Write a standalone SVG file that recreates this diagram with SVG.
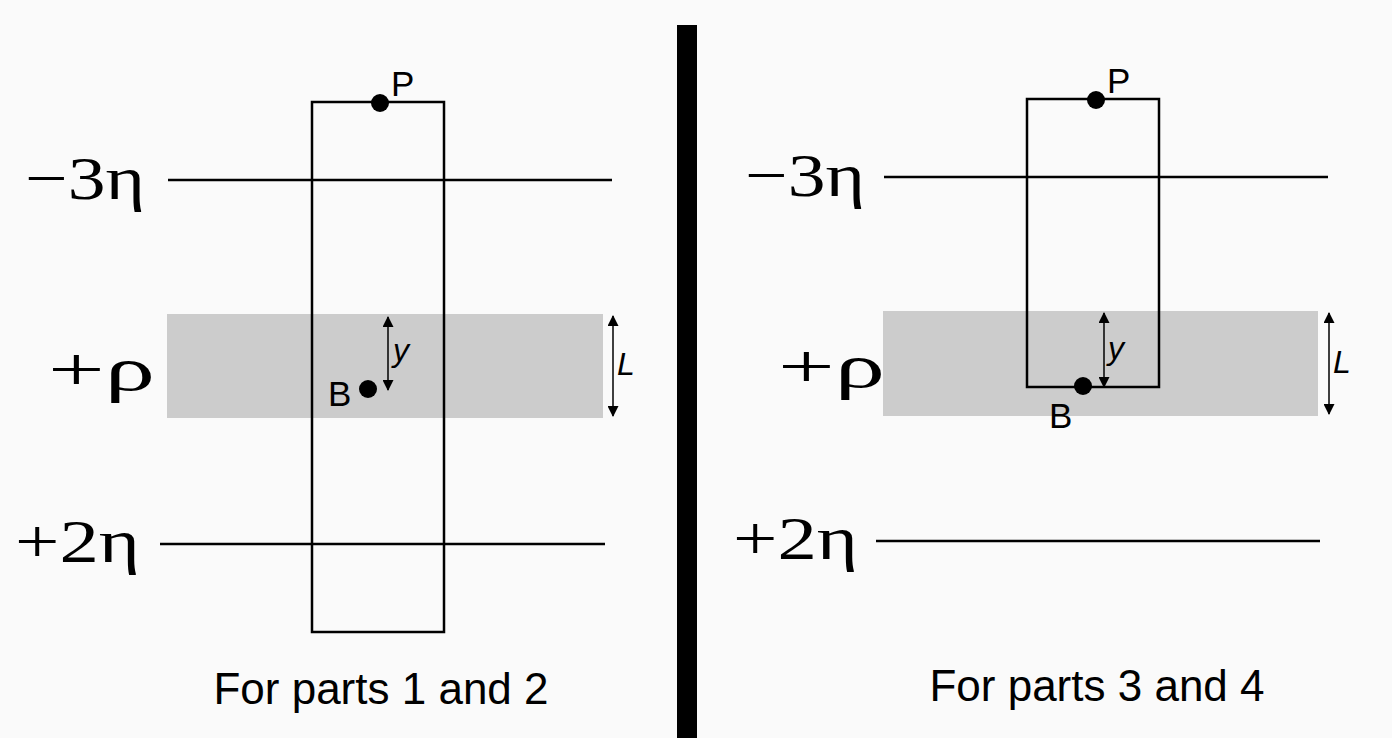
<svg xmlns="http://www.w3.org/2000/svg" width="1392" height="738" viewBox="0 0 1392 738">
<defs>
<marker id="a" viewBox="0 0 10 10" refX="9" refY="5" markerWidth="12" markerHeight="11" markerUnits="userSpaceOnUse" orient="auto-start-reverse"><path d="M0,0 L10,5 L0,10 z" fill="#000"/></marker>
<style>
.ln{stroke:#000;stroke-width:2.5;fill:none}
.ar{stroke:#000;stroke-width:1.5;marker-start:url(#a);marker-end:url(#a)}
.g{font-family:"Liberation Serif",serif;font-size:62px}
.s{font-family:"Liberation Sans",sans-serif;font-size:35px}
.i{font-family:"Liberation Sans",sans-serif;font-size:32px;font-style:italic}
.c{font-family:"Liberation Sans",sans-serif;font-size:44px}
</style>
</defs>
<rect width="1392" height="738" fill="#fafafa"/>
<rect x="677" y="25" width="20" height="713" fill="#000"/>
<g id="left">
<rect x="167" y="314" width="436" height="104" fill="#cccccc"/>
<line class="ln" x1="168" y1="180" x2="612" y2="180"/>
<line class="ln" x1="160" y1="544" x2="605" y2="544"/>
<rect class="ln" x="312" y="102" width="132" height="530"/>
<circle cx="380" cy="103" r="9"/>
<circle cx="368" cy="389" r="9"/>
<text class="s" x="391" y="96">P</text>
<text class="s" x="328" y="406">B</text>
<text class="i" x="393" y="361">y</text>
<text class="i" x="617" y="375">L</text>
<text class="g" x="25" y="199" textLength="120" lengthAdjust="spacingAndGlyphs">−3η</text>
<text class="g" x="48" y="390" textLength="107" lengthAdjust="spacingAndGlyphs">+ρ</text>
<text class="g" x="15" y="562" textLength="125" lengthAdjust="spacingAndGlyphs">+2η</text>
<text class="c" x="381" y="704" text-anchor="middle">For parts 1 and 2</text>
</g>
<g id="right">
<rect x="883" y="311" width="435" height="105" fill="#cccccc"/>
<line class="ln" x1="884" y1="177" x2="1328" y2="177"/>
<line class="ln" x1="876" y1="541" x2="1320" y2="541"/>
<rect class="ln" x="1027" y="99" width="132" height="288"/>
<circle cx="1096" cy="100" r="9"/>
<circle cx="1083" cy="386" r="9"/>
<text class="s" x="1107" y="93">P</text>
<text class="s" x="1049" y="428">B</text>
<text class="i" x="1108" y="359">y</text>
<text class="i" x="1333" y="373">L</text>
<text class="g" x="745" y="196" textLength="120" lengthAdjust="spacingAndGlyphs">−3η</text>
<text class="g" x="778" y="387" textLength="107" lengthAdjust="spacingAndGlyphs">+ρ</text>
<text class="g" x="733" y="559" textLength="125" lengthAdjust="spacingAndGlyphs">+2η</text>
<text class="c" x="1097" y="701" text-anchor="middle">For parts 3 and 4</text>
</g>
<g id="connectors">
<line class="ar" x1="388" y1="317" x2="388" y2="390"/>
<line class="ar" x1="613" y1="316" x2="613" y2="416"/>
<line class="ar" x1="1104" y1="313" x2="1104" y2="387"/>
<line class="ar" x1="1329" y1="313" x2="1329" y2="414"/>
</g>
</svg>
